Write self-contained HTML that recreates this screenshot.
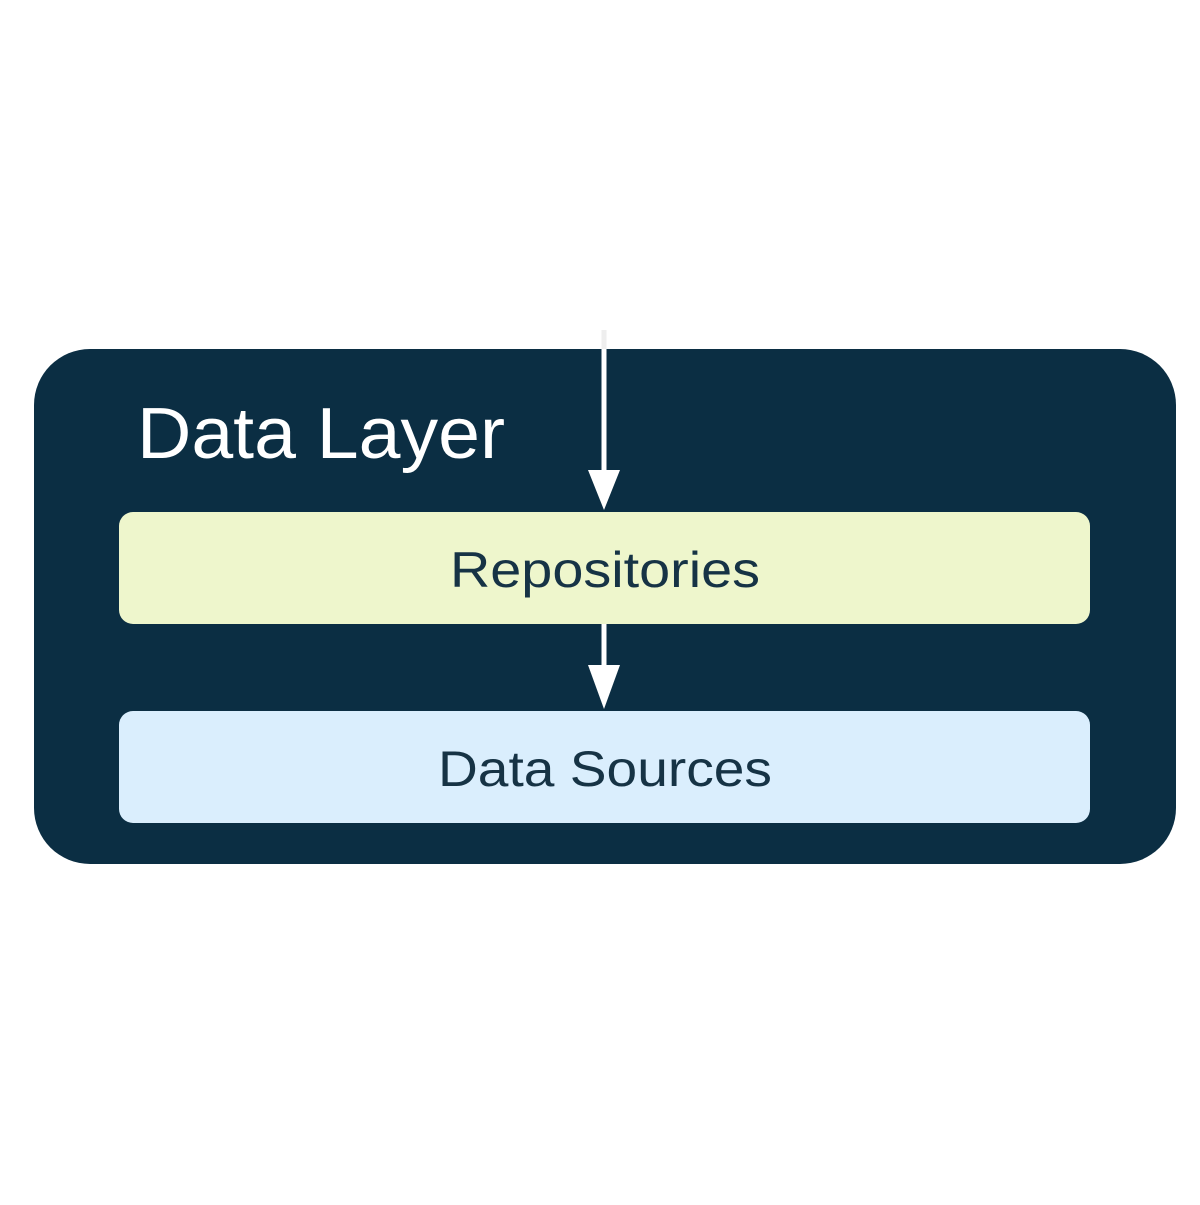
<!DOCTYPE html>
<html><head><style>
body{margin:0;width:1200px;height:1200px;background:#fff;overflow:hidden}
</style></head><body>
<svg width="1200" height="1200" xmlns="http://www.w3.org/2000/svg">
<line x1="604" y1="330" x2="604" y2="352" stroke="#eeeeee" stroke-width="5"/>
<rect x="34" y="349" width="1142" height="515" rx="56" fill="#0b2e43"/>
<text x="137" y="458" font-family="Liberation Sans, sans-serif" font-size="72" fill="#fff" textLength="368" lengthAdjust="spacingAndGlyphs">Data Layer</text>
<rect x="119" y="512" width="971" height="112" rx="14" fill="#eef6cc"/>
<text x="450" y="587" font-family="Liberation Sans, sans-serif" font-size="50" fill="#163345" textLength="310" lengthAdjust="spacingAndGlyphs">Repositories</text>
<rect x="119" y="711" width="971" height="112" rx="14" fill="#daeefd"/>
<text x="438" y="786" font-family="Liberation Sans, sans-serif" font-size="50" fill="#163345" textLength="334" lengthAdjust="spacingAndGlyphs">Data Sources</text>
<line x1="604" y1="349" x2="604" y2="475" stroke="#fff" stroke-width="5"/>
<polygon points="588,470 620,470 604,510" fill="#fff"/>
<line x1="604" y1="624" x2="604" y2="670" stroke="#fff" stroke-width="5"/>
<polygon points="588,665 620,665 604,709" fill="#fff"/>
</svg>
</body></html>
